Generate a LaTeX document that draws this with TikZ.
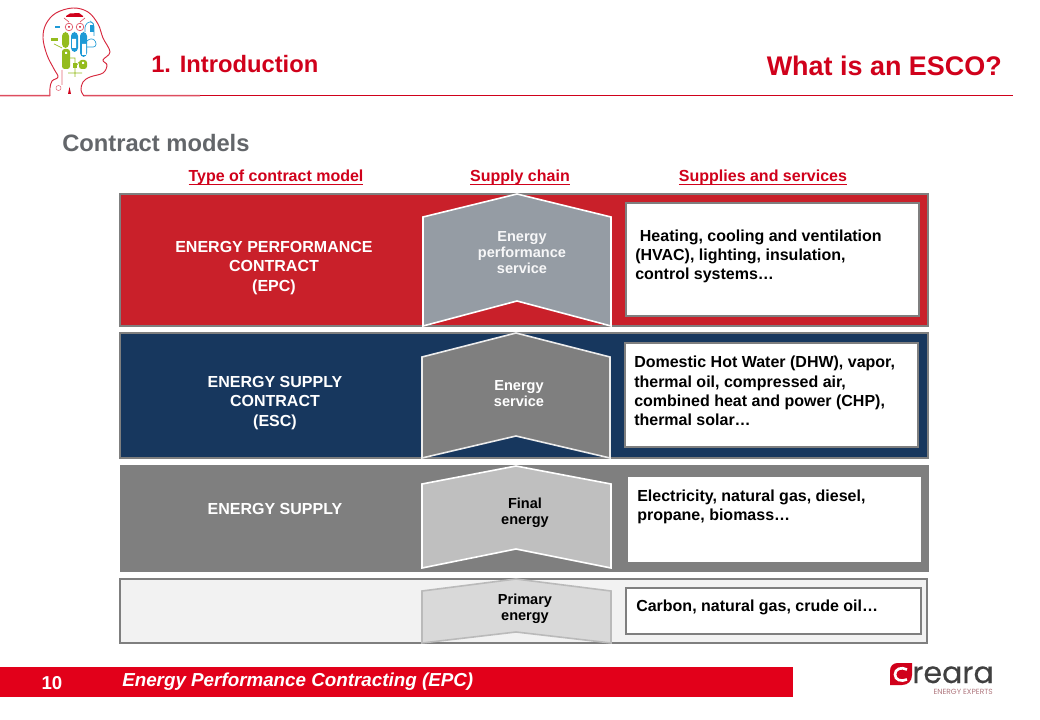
\documentclass[tikz,border=0pt]{standalone}
\usepackage{fontspec}
\setmainfont{Liberation Sans}
\newfontfamily\logofont[FakeBold=0.4]{Poppins}
\newfontfamily\taglinefont{Poppins}
\newcommand{\headline}[1]{\underline{\smash{#1}}}
\definecolor{titlered}{HTML}{D0011B}
\definecolor{barred}{HTML}{E2001A}
\definecolor{eperf}{HTML}{C9202A}
\definecolor{esupply}{HTML}{17375E}
\definecolor{midgray}{HTML}{7F7F7F}
\definecolor{slate}{HTML}{959CA4}
\definecolor{leaf}{HTML}{94BC1E}
\definecolor{sky}{HTML}{1E9AD6}
\definecolor{subgray}{HTML}{63666A}
\tikzset{
  chevron/.style={line width=1.2pt,line join=miter},
  chevtext/.style={font=\bfseries\fontsize{10.9}{12}\selectfont,align=center},
  itembox/.style={fill=white,draw=midgray,line width=1pt},
  itemtext/.style={font=\bfseries\fontsize{12}{14.4}\selectfont,align=left,anchor=west,text=black,inner sep=0pt},
  rowtext/.style={font=\bfseries\fontsize{12}{14.4}\selectfont,align=center,text=white},
  headtext/.style={font=\bfseries\fontsize{12}{14}\selectfont,text=titlered,anchor=base}
}
\begin{document}
\begin{tikzpicture}[x=0.75pt,y=-0.75pt]
    \useasboundingbox (0,0) rectangle (1040,720);
    \fill[white] (0,0) rectangle (1040,720);

    % Head logo
    \draw[titlered!85,line width=0.7pt,smooth,tension=0.6] plot coordinates {(50,96) (50,88) (52,81) (58,77) (54,69) (47,55) (43,38) (46,24) (56,13) (73,8) (88,12) (98,24) (103,38) (110,52) (103,60) (107,65) (103,73) (90,77) (83,82) (81,90) (84,96)};
    \fill[titlered] (66,16) -- (70,13.5) -- (79,13) -- (83,16) -- (83,17) -- (66,17) -- cycle;
    \draw[titlered!70,line width=0.5pt] (69,27) circle (3.8) (80,27) circle (3.8) (64,18) -- (69,22) (85,18) -- (80,22);
    \fill[titlered] (69,27) circle (1) (80,27) circle (1);
    \fill[sky] (55,26) rectangle (60,28);
    \fill[leaf,rounded corners=3pt] (62,32) rectangle (69,48);
    \fill[sky,rounded corners=3pt] (71,32) rectangle (78,52);
    \fill[sky,rounded corners=3pt] (80,32) rectangle (87,57);
    \fill[leaf,rounded corners=2pt] (62,49) rectangle (70,69);
    \fill[leaf,rounded corners=2pt] (79,60) rectangle (87,69);
    \fill[leaf] (73,63) rectangle (77,68);
    \fill[leaf] (51,38) rectangle (58,41);
    \draw[sky,line width=0.5pt,rounded corners=2pt] (85,32) -- (85,25) -- (90,21) -- (94,24) -- (94,36) (87,47) -- (96,47) -- (96,41) -- (91,38) -- (87,41);
    \fill[sky] (90,25) rectangle (94,32);
    \draw[leaf,line width=0.5pt] (62,48) -- (54,44) (70,58) -- (75,58) -- (75,63) (68,73) -- (82,73) (75,68) -- (75,77) (79,62) -- (77,65);
    \fill[white] (72,39) rectangle (76,48) (82,44) rectangle (86,55);
    \fill[white] (65,52) rectangle (67,54) (82,62) rectangle (84,64);
    \draw[titlered!60,line width=0.4pt] (62,70) -- (62,85) (58.5,88) circle (2.5);
    \fill[titlered] (68,94) -- (69.5,87) -- (71,94) -- cycle;

    % Header
    \fill[titlered!70] (0,95) rectangle (50,96.5) (84,95) rectangle (200,96.5);
    \fill[titlered] (200,95) rectangle (1013,96.5);
    \node[font=\bfseries\fontsize{17.8}{20}\selectfont,text=titlered,anchor=west,inner sep=0pt] (sectionname) at (151,64) {1. Introduction};
    \node[font=\bfseries\fontsize{20.2}{22}\selectfont,text=titlered,anchor=east,inner sep=0pt] (slidename) at (1002,66) {What is an ESCO?};
    \node[font=\bfseries\fontsize{17.8}{20}\selectfont,text=subgray,anchor=west,inner sep=0pt] (subtitle) at (62,143) {Contract models};

    % Column heads
    \node[headtext] (modelhead) at (276,182) {\headline{Type of contract model}};
    \node[headtext] (chainhead) at (520,182) {\headline{Supply chain}};
    \node[headtext] (supplyhead) at (763,182) {\headline{Supplies and services}};

    % Rows
    \filldraw[fill=eperf,draw=midgray,line width=1pt] (120,194) rectangle (928,326);
    \filldraw[fill=esupply,draw=midgray,line width=1pt] (120,333) rectangle (928,458);
    \fill[midgray] (119.5,465) rectangle (928.5,572);
    \filldraw[fill=black!5,draw=midgray,line width=1pt] (120,579) rectangle (927,643);

    \node[rowtext] (epc) at (274,268) {ENERGY PERFORMANCE\\CONTRACT\\(EPC)};
    \node[rowtext] (esc) at (275,403) {ENERGY SUPPLY\\CONTRACT\\(ESC)};
    \node[rowtext] (es) at (275,509) {ENERGY SUPPLY};

    % Supply chain
    \filldraw[chevron,fill=slate,draw=white] (423,217) -- (517,194) -- (611,217) -- (611,326) -- (517,301) -- (423,326) -- cycle;
    \filldraw[chevron,fill=midgray,draw=white!85!midgray] (422,357) -- (516,333) -- (610,357) -- (610,458) -- (516,436) -- (422,458) -- cycle;
    \filldraw[chevron,fill=black!25,draw=white] (422,484) -- (516,466) -- (611,484) -- (611,568) -- (516,549) -- (422,568) -- cycle;
    \filldraw[chevron,fill=black!15,draw=black!27] (422,591) -- (516,579) -- (611,591) -- (611,643) -- (516,632) -- (422,643) -- cycle;

    \node[chevtext,text=white!92!slate] (perfservice) at (522,253) {Energy\\performance\\service};
    \node[chevtext,text=white] (service) at (519,394) {Energy\\service};
    \node[chevtext] (finalenergy) at (525,513) {Final\\energy};
    \node[chevtext] (primaryenergy) at (525,609) {Primary\\energy};

    % Supplies and services
    \draw[itembox] (626,203) rectangle (919,316);
    \draw[itembox] (625,343) rectangle (918,447);
    \fill[white] (628,477) rectangle (921,562);
    \draw[itembox] (626,588) rectangle (921,634);

    \node[itemtext] (hvac) at (635,256.5) {\hspace{3.5pt}Heating, cooling and ventilation\\(HVAC), lighting, insulation,\\control systems\ldots};
    \node[itemtext] (dhw) at (634,391) {Domestic Hot Water (DHW), vapor,\\thermal oil, compressed air,\\combined heat and power (CHP),\\thermal solar\ldots};
    \node[itemtext] (fuels) at (637,507) {Electricity, natural gas, diesel,\\propane, biomass\ldots};
    \node[itemtext] (primaryfuels) at (636,607) {Carbon, natural gas, crude oil\ldots};

    % Footer
    \fill[barred] (0,667) rectangle (793,697);
    \node[font=\bfseries\fontsize{14}{15}\selectfont,text=white] (pagenum) at (52,683) {10};
    \node[font=\bfseries\itshape\fontsize{14.1}{16}\selectfont,text=white,anchor=west,inner sep=0pt] (footname) at (122,682) {Energy Performance Contracting (EPC)};

    % Brand
    \fill[titlered] (890,685) -- (890,671) .. controls (890,666) and (893,663) .. (898,663) -- (912,663) -- (912,675) .. controls (912,681) and (908,685) .. (902,685) -- cycle;
    \draw[white,line width=2pt] (907,669.5) .. controls (901,666.5) and (895,669) .. (895,674.5) .. controls (895,680) and (901,682) .. (907,679.5);
    \node[font=\logofont\fontsize{22.5}{23}\selectfont,text=black!75,anchor=base west,inner sep=0pt] (brand) at (912,683) {reara};
    \node[font=\taglinefont\fontsize{5.6}{6}\selectfont,text=titlered!35!gray!80,anchor=base east,inner sep=0pt] (brandline) at (993,694) {ENERGY EXPERTS};
\end{tikzpicture}
\end{document}
